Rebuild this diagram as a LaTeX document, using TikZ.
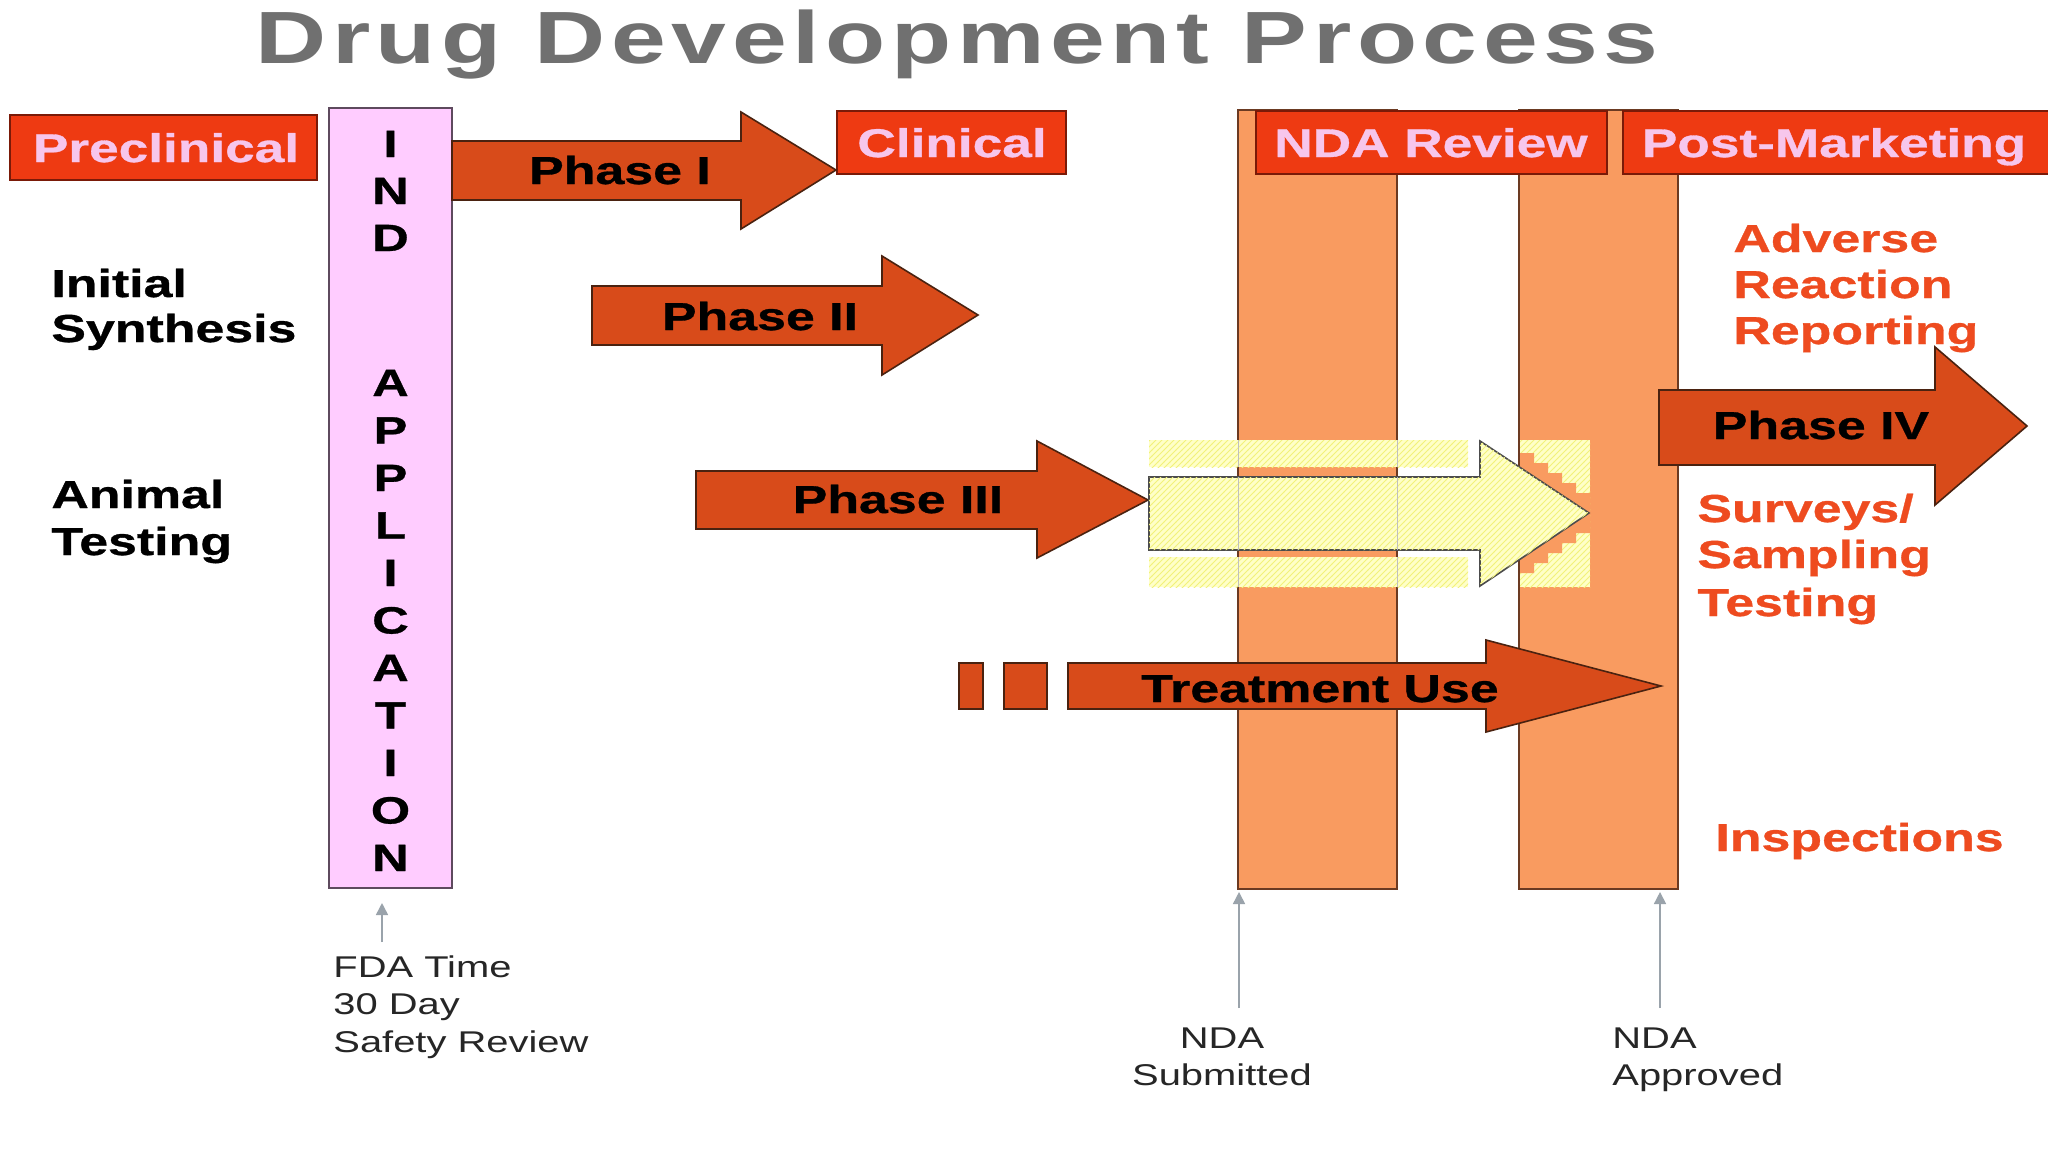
\documentclass[tikz,border=0pt]{standalone}
\usepackage{fontspec}
\usetikzlibrary{arrows.meta,patterns}
\setmainfont{Liberation Sans}[FakeStretch=1.33]
\newfontfamily\bfnt{Liberation Sans}[FakeStretch=1.33,FakeBold=0.8]
\newfontfamily\titlefnt{Liberation Sans}[FakeStretch=1.33,LetterSpace=7.6]
\definecolor{hdrred}{HTML}{EE3A12}
\definecolor{hdrline}{HTML}{7A1A08}
\definecolor{hdrtxt}{HTML}{F7C6EC}
\definecolor{arrfill}{HTML}{D84B1A}
\definecolor{arrline}{HTML}{4A2210}
\definecolor{colfill}{HTML}{F99B60}
\definecolor{colline}{HTML}{6B3A22}
\definecolor{indfill}{HTML}{FFCCFF}
\definecolor{indline}{HTML}{5E4A5E}
\definecolor{redtxt}{HTML}{EE4B1F}
\definecolor{titlegrey}{HTML}{707070}
\definecolor{ylfill}{HTML}{FFFFC8}
\definecolor{ylline}{HTML}{F2F27A}
\definecolor{garrowc}{HTML}{9AA3AB}
\tikzset{
  hdrbox/.style={draw=hdrline,line width=0.8pt,fill=hdrred,inner sep=0pt,outer sep=0pt},
  hdrtext/.style={text=hdrtxt,font=\bfnt\bfseries\fontsize{20}{20}\selectfont,inner sep=0pt,anchor=base},
  colbox/.style={draw=colline,line width=0.9pt,fill=colfill,inner sep=0pt,outer sep=0pt},
  indbox/.style={draw=indline,line width=0.9pt,fill=indfill,inner sep=0pt,outer sep=0pt},
  indletter/.style={font=\bfnt\bfseries\fontsize{19}{19}\selectfont,inner sep=0pt,anchor=base},
  parrow/.style={draw=arrline,line width=0.8pt,fill=arrfill,line join=miter},
  ptext/.style={font=\bfnt\bfseries\fontsize{19.5}{19.5}\selectfont,text=black,inner sep=0pt,anchor=base},
  lefttext/.style={font=\bfnt\bfseries\fontsize{19.5}{19.5}\selectfont,text=black,inner sep=0pt,anchor=base west},
  redtext/.style={font=\bfnt\bfseries\fontsize{19.5}{19.5}\selectfont,text=redtxt,inner sep=0pt,anchor=base west},
  lbltext/.style={font=\fontsize{15}{15}\selectfont,text=black!85,inner sep=0pt},
  ybg/.style={fill=ylfill,postaction={pattern=north east lines,pattern color=ylline}},
  yarrow/.style={draw=black!70,line width=0.8pt,fill=ylfill,postaction={pattern=north east lines,pattern color=ylline}},
  garrow/.style={draw=garrowc,line width=0.8pt,-{Triangle[length=6pt,width=6pt]}},
}
\begin{document}
\begin{tikzpicture}[x=0.5pt,y=-0.5pt]
\fill[white] (0,0) rectangle (2048,1152);
\useasboundingbox (0,0) rectangle (2048,1152);

% title
\node[font=\titlefnt\bfseries\fontsize{37}{37}\selectfont,text=titlegrey,inner sep=0pt,anchor=base west] (title) at (255,63) {Drug Development Process};

% review columns
\node[colbox,minimum width=79.5pt,minimum height=389.5pt] (col1) at (1317.5,499.5) {};
\node[colbox,minimum width=79.5pt,minimum height=389.5pt] (col2) at (1598.5,499.5) {};

% IND column
\node[indbox,minimum width=61.5pt,minimum height=390pt] (ind) at (390.5,498) {};
\foreach \ch/\yy [count=\i] in {I/157,N/204,D/251,A/396,P/443.5,P/491,L/538.5,I/586,C/633.5,A/681,T/728.5,I/776,O/823.5,N/871}
  \node[indletter] (ind-\i) at (390.5,\yy) {\ch};

% header boxes
\node[hdrbox,minimum width=153.5pt,minimum height=32.5pt] (pre) at (163.5,147.5) {};
\node[hdrtext] (pretxt) at (166,162) {Preclinical};
\node[hdrbox,minimum width=114.5pt,minimum height=31.5pt] (cli) at (951.5,142.5) {};
\node[hdrtext] (clitxt) at (952,157) {Clinical};
\node[hdrbox,minimum width=175.5pt,minimum height=31.5pt] (nda) at (1431.5,142.5) {};
\node[hdrtext] (ndatxt) at (1431,157) {NDA Review};
\node[hdrbox,minimum width=214.5pt,minimum height=31.5pt] (pm) at (1837.5,142.5) {};
\node[hdrtext] (pmtxt) at (1834,157) {Post-Marketing};

% Phase I
\draw[parrow] (452,141) -- (741,141) -- (741,112) -- (836,170) -- (741,229) -- (741,200) -- (452,200) -- cycle;
\node[ptext] (p1) at (620,184) {Phase I};

% Phase II
\draw[parrow] (592,286) -- (882,286) -- (882,256) -- (978,315) -- (882,375) -- (882,345) -- (592,345) -- cycle;
\node[ptext] (p2) at (760,330) {Phase II};

% yellow highlight bands
\fill[ybg] (1149,440) rectangle (1468,467);
\fill[ybg] (1149,557) rectangle (1468,587);
\fill[ybg] (1520,440) rectangle (1590,587);
\fill[colfill] (1520,453) -- (1534,453) -- (1534,463) -- (1548,463) -- (1548,473) -- (1562,473)
  -- (1562,483) -- (1576,483) -- (1576,493) -- (1590,493) -- (1590,533) -- (1576,533) -- (1576,543)
  -- (1562,543) -- (1562,553) -- (1548,553) -- (1548,563) -- (1534,563) -- (1534,573) -- (1520,573) -- cycle;
\draw[black!25,line width=0.4pt] (1238,440) -- (1238,467) (1397,440) -- (1397,467)
  (1238,557) -- (1238,587) (1397,557) -- (1397,587);

% Phase III
\draw[parrow] (696,471) -- (1037,471) -- (1037,441) -- (1148,500) -- (1037,558) -- (1037,529) -- (696,529) -- cycle;
\node[ptext] (p3) at (898,513) {Phase III};

% pale arrow through NDA review
\draw[yarrow] (1149,477) -- (1480,477) -- (1480,441) -- (1589,513) -- (1480,586) -- (1480,550) -- (1149,550) -- cycle;
\draw[black!25,line width=0.4pt] (1238,477) -- (1238,550) (1397,477) -- (1397,550);

% Treatment Use
\draw[parrow] (959,663) rectangle (983,709);
\draw[parrow] (1004,663) rectangle (1047,709);
\draw[parrow] (1068,663) -- (1486,663) -- (1486,640) -- (1661,686) -- (1486,732) -- (1486,709) -- (1068,709) -- cycle;
\node[ptext] (tu) at (1320,702) {Treatment Use};

% Phase IV
\draw[parrow] (1659,390) -- (1935,390) -- (1935,347) -- (2027,426) -- (1935,505) -- (1935,465) -- (1659,465) -- cycle;
\node[ptext] (p4) at (1821,439) {Phase IV};

% preclinical texts
\node[lefttext] (ini1) at (51,297) {Initial};
\node[lefttext] (ini2) at (51,342) {Synthesis};
\node[lefttext] (ani1) at (51,508) {Animal};
\node[lefttext] (ani2) at (51,555) {Testing};

% post-marketing texts
\node[redtext] (adv1) at (1733,252) {Adverse};
\node[redtext] (adv2) at (1733,298) {Reaction};
\node[redtext] (adv3) at (1733,344) {Reporting};
\node[redtext] (sur1) at (1697,522) {Surveys/};
\node[redtext] (sur2) at (1697,568) {Sampling};
\node[redtext] (sur3) at (1697,616) {Testing};
\node[redtext] (insp) at (1715,851) {Inspections};

% bottom labels
\node[lbltext,anchor=base west] (fda1) at (333,977) {FDA Time};
\node[lbltext,anchor=base west] (fda2) at (333,1014) {30 Day};
\node[lbltext,anchor=base west] (fda3) at (333,1052) {Safety Review};
\node[lbltext,anchor=base] (sub1) at (1222,1048) {NDA};
\node[lbltext,anchor=base] (sub2) at (1222,1085) {Submitted};
\node[lbltext,anchor=base west] (app1) at (1612,1048) {NDA};
\node[lbltext,anchor=base west] (app2) at (1612,1085) {Approved};

% pointer arrows
\coordinate (fdaT) at (382,942);
\coordinate (fdaH) at (382,903);
\coordinate (subT) at (1239,1008);
\coordinate (subH) at (1239,892);
\coordinate (appT) at (1660,1008);
\coordinate (appH) at (1660,892);
\draw[garrow] (fdaT) -- (fdaH);
\draw[garrow] (subT) -- (subH);
\draw[garrow] (appT) -- (appH);
\end{tikzpicture}
\end{document}
